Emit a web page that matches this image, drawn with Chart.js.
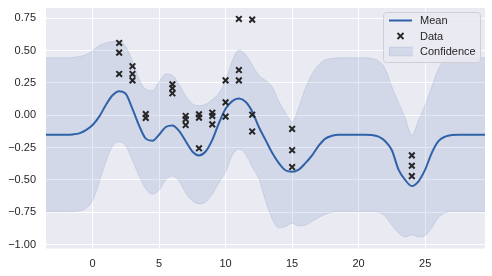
<!DOCTYPE html>
<html>
<head>
<meta charset="utf-8">
<script src="https://cdn.jsdelivr.net/npm/chart.js@4.4.0/dist/chart.umd.min.js"></script>
<style>
  html, body { margin: 0; padding: 0; background: #ffffff; }
  #wrap { width: 492px; height: 276px; }
</style>
</head>
<body>
<div id="wrap"><canvas id="c" width="492" height="276"></canvas></div>
<script>
// Observed data points
const dataX = [2,2,2, 3,3,3, 4,4, 6,6,6, 7,7,7, 8,8,8, 9,9,9, 10,10,10, 11,11,11, 12,12,12, 15,15,15, 24,24,24];
const dataY = [0.56,0.485,0.32, 0.38,0.32,0.27, 0.01,-0.02, 0.24,0.21,0.17, -0.005,-0.03,-0.075, 0.008,-0.018,-0.255, 0.02,-0.005,-0.07, 0.27,0.10,-0.01, 0.745,0.35,0.27, 0.74,0.005,-0.125, -0.105,-0.27,-0.40, -0.31,-0.39,-0.47];

// Curve sample positions
const gridX = [-3.5,-3,-2.5,-2,-1.5,-1,-0.5,0,0.5,1,1.5,2,2.5,3,3.5,4,4.5,5,5.5,6,6.5,7,7.5,8,8.5,9,9.5,10,10.5,11,11.5,12,12.5,13,13.5,14,14.5,15,15.5,16,16.5,17,17.5,18,18.5,19,19.5,20,20.5,21,21.5,22,22.5,23,23.5,24,24.5,25,25.5,26,26.5,27,27.5,28,28.5,29,29.5];
// Posterior mean
const meanY = [-0.15,-0.15,-0.15,-0.15,-0.148,-0.14,-0.115,-0.075,-0.01,0.08,0.155,0.187,0.165,0.05,-0.08,-0.18,-0.197,-0.15,-0.09,-0.078,-0.12,-0.2,-0.28,-0.31,-0.28,-0.19,-0.06,0.05,0.11,0.13,0.105,0.03,-0.09,-0.19,-0.29,-0.37,-0.425,-0.437,-0.42,-0.37,-0.31,-0.235,-0.18,-0.158,-0.15,-0.15,-0.15,-0.15,-0.15,-0.152,-0.165,-0.2,-0.27,-0.42,-0.5,-0.547,-0.51,-0.42,-0.29,-0.2,-0.165,-0.152,-0.15,-0.15,-0.15,-0.15,-0.15];
// Confidence band upper edge
const upperY = [0.445,0.445,0.445,0.445,0.447,0.455,0.47,0.5,0.54,0.56,0.57,0.575,0.53,0.42,0.28,0.2,0.19,0.26,0.32,0.31,0.24,0.15,0.09,0.075,0.085,0.12,0.17,0.27,0.42,0.505,0.47,0.39,0.31,0.27,0.22,0.11,0.02,-0.05,0.06,0.21,0.32,0.39,0.43,0.44,0.445,0.445,0.445,0.445,0.445,0.44,0.42,0.36,0.22,0.1,-0.02,-0.155,-0.04,0.08,0.22,0.36,0.43,0.445,0.445,0.445,0.445,0.445,0.445];
// Confidence band lower edge
const lowerY = [-0.745,-0.745,-0.745,-0.745,-0.744,-0.74,-0.72,-0.66,-0.52,-0.36,-0.24,-0.205,-0.24,-0.35,-0.47,-0.57,-0.61,-0.58,-0.5,-0.47,-0.51,-0.6,-0.66,-0.685,-0.67,-0.61,-0.52,-0.44,-0.31,-0.26,-0.3,-0.4,-0.49,-0.66,-0.8,-0.87,-0.86,-0.835,-0.855,-0.85,-0.82,-0.79,-0.765,-0.75,-0.745,-0.745,-0.745,-0.745,-0.745,-0.745,-0.75,-0.78,-0.85,-0.91,-0.94,-0.925,-0.94,-0.93,-0.87,-0.79,-0.755,-0.745,-0.745,-0.745,-0.745,-0.745,-0.745];

const xTicks = [0,5,10,15,20,25];
const yTicks = [-1.00,-0.75,-0.50,-0.25,0.00,0.25,0.50,0.75];
const legendLabels = ['Mean','Data','Confidence'];

const pts = (xs, ys) => xs.map((x, i) => ({x: x, y: ys[i]}));

const BLUE = '#2f62a8';
const FONT = '"Liberation Sans", Arial, sans-serif';
const TXT = '#262626';

const bgPlugin = {
  id: 'bg',
  beforeDraw(chart) {
    const {ctx, chartArea: a} = chart;
    ctx.save();
    ctx.fillStyle = '#EAEAF2';
    ctx.fillRect(a.left, a.top, a.right - a.left, a.bottom - a.top);
    ctx.restore();
  }
};

const legendPlugin = {
  id: 'customLegend',
  afterDraw(chart) {
    const {ctx} = chart;
    const x0 = 383.5, y0 = 12.5, w = 97, h = 50;
    ctx.save();
    ctx.fillStyle = 'rgba(234,234,242,0.85)';
    ctx.strokeStyle = '#cfcfd6';
    ctx.lineWidth = 1;
    ctx.beginPath();
    if (ctx.roundRect) ctx.roundRect(x0, y0, w, h, 3); else ctx.rect(x0, y0, w, h);
    ctx.fill();
    ctx.stroke();
    const rows = [20.5, 36, 51.5];
    ctx.strokeStyle = BLUE;
    ctx.lineWidth = 2;
    ctx.beginPath();
    ctx.moveTo(389, rows[0]);
    ctx.lineTo(412, rows[0]);
    ctx.stroke();
    ctx.strokeStyle = '#262626';
    ctx.lineWidth = 1.8;
    const cx = 400.5, cy = rows[1], r = 3;
    ctx.beginPath();
    ctx.moveTo(cx - r, cy - r); ctx.lineTo(cx + r, cy + r);
    ctx.moveTo(cx - r, cy + r); ctx.lineTo(cx + r, cy - r);
    ctx.stroke();
    ctx.fillStyle = 'rgba(76,114,176,0.15)';
    ctx.fillRect(389, rows[2] - 4.5, 23, 9);
    ctx.strokeStyle = 'rgba(76,114,176,0.12)';
    ctx.lineWidth = 1;
    ctx.strokeRect(389.5, rows[2] - 4.5, 23, 9);
    ctx.fillStyle = TXT;
    ctx.font = '11px ' + FONT;
    ctx.textBaseline = 'middle';
    ctx.textAlign = 'left';
    legendLabels.forEach((t, i) => ctx.fillText(t, 420, rows[i] + 0.5));
    ctx.restore();
  }
};

new Chart(document.getElementById('c'), {
  type: 'line',
  data: {
    datasets: [
      {
        label: 'Data',
        data: pts(dataX, dataY),
        showLine: false,
        pointStyle: 'crossRot',
        pointRadius: 4,
        pointBorderWidth: 2,
        pointBorderColor: '#262626',
        pointBackgroundColor: '#262626',
        pointHoverRadius: 4
      },
      {
        label: 'Mean',
        data: pts(gridX, meanY),
        borderColor: BLUE,
        borderWidth: 2,
        pointRadius: 0,
        cubicInterpolationMode: 'monotone',
        fill: false
      },
      {
        label: 'Confidence',
        data: pts(gridX, upperY),
        borderColor: 'rgba(76,114,176,0.15)',
        borderWidth: 1,
        pointRadius: 0,
        cubicInterpolationMode: 'monotone',
        backgroundColor: 'rgba(76,114,176,0.15)',
        fill: '+1'
      },
      {
        label: 'ConfidenceLower',
        data: pts(gridX, lowerY),
        borderColor: 'rgba(76,114,176,0.15)',
        borderWidth: 1,
        pointRadius: 0,
        cubicInterpolationMode: 'monotone',
        fill: false
      }
    ]
  },
  options: {
    responsive: false,
    animation: false,
    events: [],
    layout: { padding: { top: 8, right: 7, left: 0, bottom: 0 } },
    plugins: { legend: { display: false }, tooltip: { enabled: false } },
    scales: {
      x: {
        type: 'linear',
        min: -3.5,
        max: 29.5,
        afterBuildTicks: (s) => { s.ticks = xTicks.map(v => ({value: v})); },
        afterFit: (s) => { s.height = 27.5; s.paddingLeft = 0; s.paddingRight = 0; },
        grid: { color: '#ffffff', lineWidth: 1, drawTicks: false },
        border: { display: false },
        ticks: {
          color: TXT,
          font: { family: FONT, size: 11 },
          padding: 9,
          maxRotation: 0,
          callback: (v) => String(v)
        }
      },
      y: {
        type: 'linear',
        min: -1.03,
        max: 0.83,
        afterBuildTicks: (s) => { s.ticks = yTicks.map(v => ({value: v})); },
        afterFit: (s) => { s.width = 46; s.paddingTop = 0; s.paddingBottom = 0; },
        grid: { color: '#ffffff', lineWidth: 1, drawTicks: false },
        border: { display: false },
        ticks: {
          color: TXT,
          font: { family: FONT, size: 11 },
          padding: 10,
          callback: (v) => (v < 0 ? '\u2212' : '') + Math.abs(v).toFixed(2)
        }
      }
    }
  },
  plugins: [bgPlugin, legendPlugin]
});
</script>
</body>
</html>
